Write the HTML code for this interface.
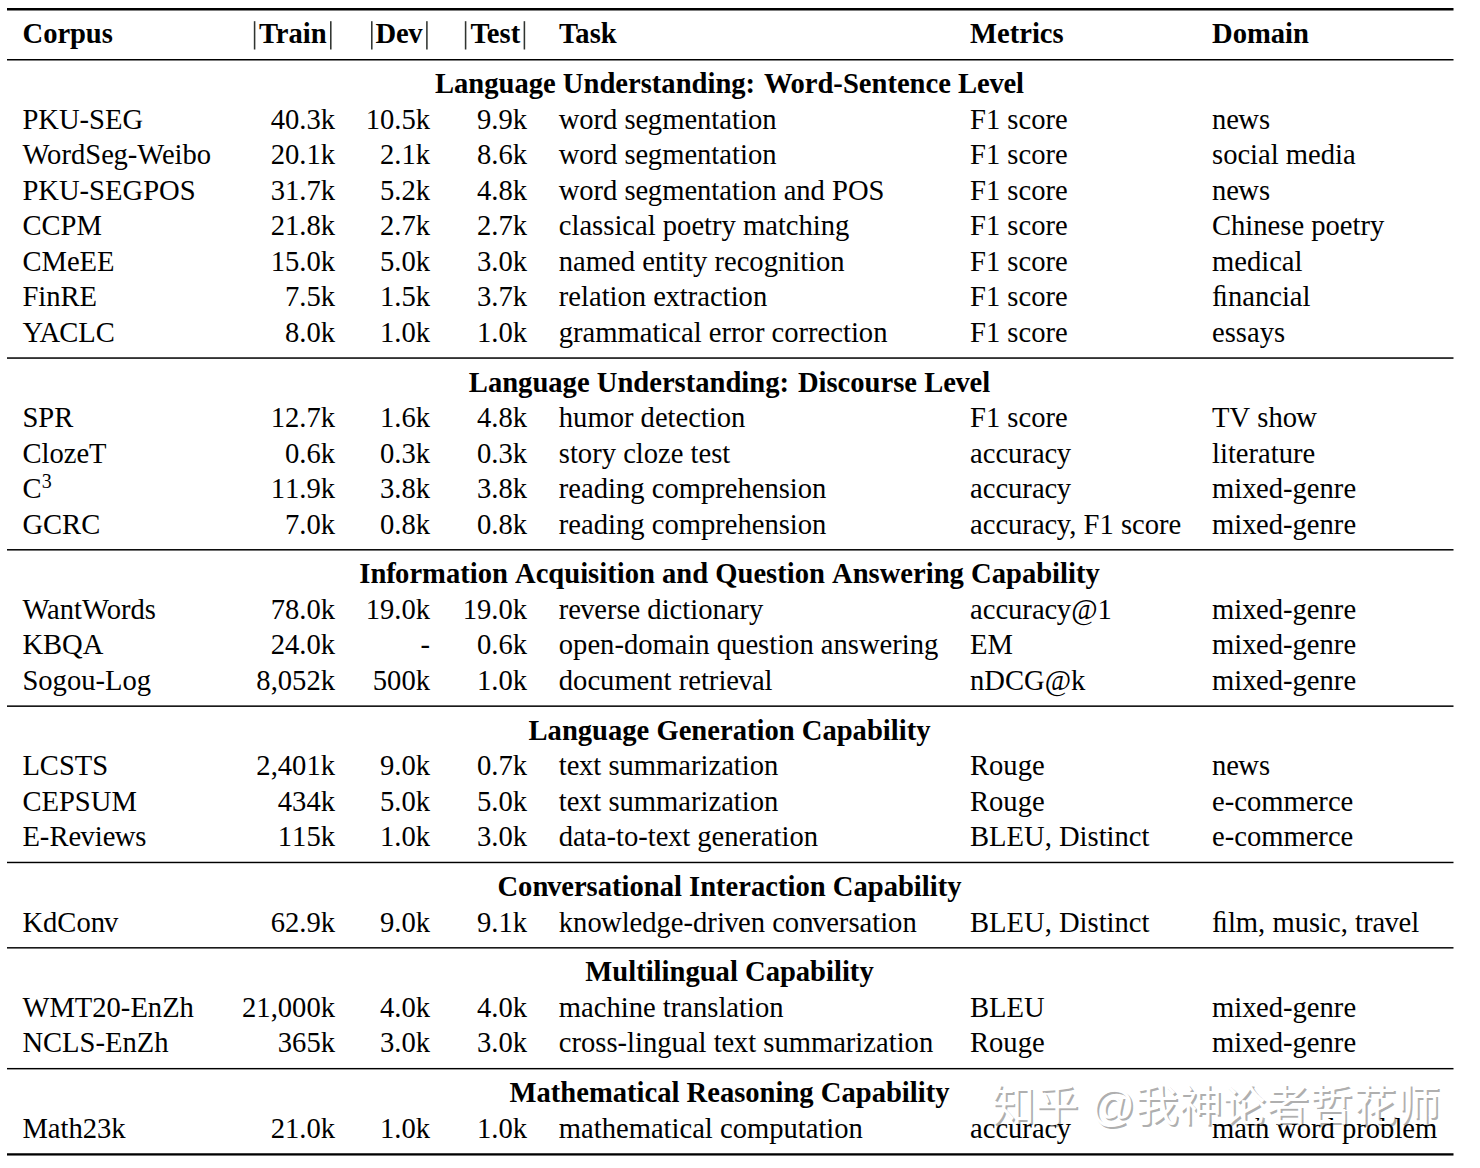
<!DOCTYPE html>
<html><head><meta charset="utf-8"><title>Table</title>
<style>
html,body{margin:0;padding:0;background:#fff;}
body{width:1480px;height:1168px;position:relative;overflow:hidden;font-family:"Liberation Serif",serif;color:#000;font-kerning:none;font-variant-ligatures:none;}
i{font-style:normal}
.k0{letter-spacing:-0.01em}
.k1{letter-spacing:-0.074em}
.k2{letter-spacing:-0.015em}
.k3{letter-spacing:-0.092em}
.k4{letter-spacing:0.06em}
.k5{letter-spacing:-0.075em}
.k6{letter-spacing:-0.025em}
.k7{letter-spacing:-0.08em}
.k8{letter-spacing:-0.12em}
.k9{letter-spacing:-0.04em}
.k10{letter-spacing:-0.065em}
.k11{letter-spacing:-0.02em}
.t{position:absolute;white-space:pre;font-size:28.6px;line-height:40px;height:40px;}
.b{font-weight:bold;}
.r{width:300px;text-align:right;}
.c{width:1200px;text-align:center;}
svg.ov{position:absolute;left:0;top:0;}
sup{font-size:0.7em;line-height:0;vertical-align:baseline;position:relative;top:-0.49em;margin-left:0.02em}
</style></head><body>
<span class="t b" style="left:22.60px;top:14px">Co<i class="k0">r</i>pus</span>
<span class="t b" style="left:258.90px;top:14px"><i class="k1">T</i>rain</span>
<span class="t b" style="left:375.40px;top:14px">D<i class="k2">e</i>v</span>
<span class="t b" style="left:470.40px;top:14px"><i class="k3">T</i>est</span>
<span class="t b" style="left:558.90px;top:14px"><i class="k3">T</i>ask</span>
<span class="t b" style="left:970.00px;top:14px">Metrics</span>
<span class="t b" style="left:1212.00px;top:14px">Domain</span>
<span class="t c b" style="left:129.50px;top:64px">Language Understanding<i class="k4">:</i> <i class="k5">W</i>ord-Sentence L<i class="k2">e</i><i class="k0">v</i>el</span>
<span class="t " style="left:22.40px;top:100px">PKU-SEG</span>
<span class="t r " style="left:35.00px;top:100px">40.3k</span>
<span class="t r " style="left:130.00px;top:100px">10.5k</span>
<span class="t r " style="left:227.00px;top:100px">9.9k</span>
<span class="t " style="left:558.80px;top:100px"><i class="k0">w</i>ord s<i class="k2">e</i>gmentation</span>
<span class="t " style="left:970.00px;top:100px">F1 score</span>
<span class="t " style="left:1212.00px;top:100px">n<i class="k6">e</i>ws</span>
<span class="t " style="left:22.40px;top:135px"><i class="k7">W</i>ordS<i class="k2">e</i>g-<i class="k7">W</i>eibo</span>
<span class="t r " style="left:35.00px;top:135px">20.1k</span>
<span class="t r " style="left:130.00px;top:135px">2.1k</span>
<span class="t r " style="left:227.00px;top:135px">8.6k</span>
<span class="t " style="left:558.80px;top:135px"><i class="k0">w</i>ord s<i class="k2">e</i>gmentation</span>
<span class="t " style="left:970.00px;top:135px">F1 score</span>
<span class="t " style="left:1212.00px;top:135px">social media</span>
<span class="t " style="left:22.40px;top:171px">PKU-SEGPOS</span>
<span class="t r " style="left:35.00px;top:171px">31.7k</span>
<span class="t r " style="left:130.00px;top:171px">5.2k</span>
<span class="t r " style="left:227.00px;top:171px">4.8k</span>
<span class="t " style="left:558.80px;top:171px"><i class="k0">w</i>ord s<i class="k2">e</i>gmentation and POS</span>
<span class="t " style="left:970.00px;top:171px">F1 score</span>
<span class="t " style="left:1212.00px;top:171px">n<i class="k6">e</i>ws</span>
<span class="t " style="left:22.40px;top:206px">CCPM</span>
<span class="t r " style="left:35.00px;top:206px">21.8k</span>
<span class="t r " style="left:130.00px;top:206px">2.7k</span>
<span class="t r " style="left:227.00px;top:206px">2.7k</span>
<span class="t " style="left:558.80px;top:206px">classical poetry matching</span>
<span class="t " style="left:970.00px;top:206px">F1 score</span>
<span class="t " style="left:1212.00px;top:206px">Chinese poetry</span>
<span class="t " style="left:22.40px;top:242px">CMeEE</span>
<span class="t r " style="left:35.00px;top:242px">15.0k</span>
<span class="t r " style="left:130.00px;top:242px">5.0k</span>
<span class="t r " style="left:227.00px;top:242px">3.0k</span>
<span class="t " style="left:558.80px;top:242px">named entity recognition</span>
<span class="t " style="left:970.00px;top:242px">F1 score</span>
<span class="t " style="left:1212.00px;top:242px">medical</span>
<span class="t " style="left:22.40px;top:277px">FinRE</span>
<span class="t r " style="left:35.00px;top:277px">7.5k</span>
<span class="t r " style="left:130.00px;top:277px">1.5k</span>
<span class="t r " style="left:227.00px;top:277px">3.7k</span>
<span class="t " style="left:558.80px;top:277px">relation <i class="k2">e</i>xtraction</span>
<span class="t " style="left:970.00px;top:277px">F1 score</span>
<span class="t " style="left:1212.00px;top:277px">ﬁnancial</span>
<span class="t " style="left:22.40px;top:313px"><i class="k8">Y</i><i class="k9">A</i>CLC</span>
<span class="t r " style="left:35.00px;top:313px">8.0k</span>
<span class="t r " style="left:130.00px;top:313px">1.0k</span>
<span class="t r " style="left:227.00px;top:313px">1.0k</span>
<span class="t " style="left:558.80px;top:313px">grammatical error correction</span>
<span class="t " style="left:970.00px;top:313px">F1 score</span>
<span class="t " style="left:1212.00px;top:313px">essays</span>
<span class="t c b" style="left:129.50px;top:363px">Language Understanding<i class="k4">:</i> Discourse L<i class="k2">e</i><i class="k0">v</i>el</span>
<span class="t " style="left:22.40px;top:398px">SPR</span>
<span class="t r " style="left:35.00px;top:398px">12.7k</span>
<span class="t r " style="left:130.00px;top:398px">1.6k</span>
<span class="t r " style="left:227.00px;top:398px">4.8k</span>
<span class="t " style="left:558.80px;top:398px">humor detection</span>
<span class="t " style="left:970.00px;top:398px">F1 score</span>
<span class="t " style="left:1212.00px;top:398px">TV sh<i class="k6">o</i>w</span>
<span class="t " style="left:22.40px;top:434px">ClozeT</span>
<span class="t r " style="left:35.00px;top:434px">0.6k</span>
<span class="t r " style="left:130.00px;top:434px">0.3k</span>
<span class="t r " style="left:227.00px;top:434px">0.3k</span>
<span class="t " style="left:558.80px;top:434px">story cloze test</span>
<span class="t " style="left:970.00px;top:434px">accura<i class="k2">c</i>y</span>
<span class="t " style="left:1212.00px;top:434px">literature</span>
<span class="t " style="left:22.40px;top:469px">C<sup>3</sup></span>
<span class="t r " style="left:35.00px;top:469px">11.9k</span>
<span class="t r " style="left:130.00px;top:469px">3.8k</span>
<span class="t r " style="left:227.00px;top:469px">3.8k</span>
<span class="t " style="left:558.80px;top:469px">reading comprehension</span>
<span class="t " style="left:970.00px;top:469px">accura<i class="k2">c</i>y</span>
<span class="t " style="left:1212.00px;top:469px">mi<i class="k2">x</i>ed-genre</span>
<span class="t " style="left:22.40px;top:505px">GCRC</span>
<span class="t r " style="left:35.00px;top:505px">7.0k</span>
<span class="t r " style="left:130.00px;top:505px">0.8k</span>
<span class="t r " style="left:227.00px;top:505px">0.8k</span>
<span class="t " style="left:558.80px;top:505px">reading comprehension</span>
<span class="t " style="left:970.00px;top:505px">accura<i class="k2">c</i><i class="k10">y</i>, F1 score</span>
<span class="t " style="left:1212.00px;top:505px">mi<i class="k2">x</i>ed-genre</span>
<span class="t c b" style="left:129.50px;top:554px">In<i class="k6">f</i>ormation Acquisition and Question Answering Capability</span>
<span class="t " style="left:22.40px;top:590px"><i class="k7">W</i>ant<i class="k7">W</i>ords</span>
<span class="t r " style="left:35.00px;top:590px">78.0k</span>
<span class="t r " style="left:130.00px;top:590px">19.0k</span>
<span class="t r " style="left:227.00px;top:590px">19.0k</span>
<span class="t " style="left:558.80px;top:590px">r<i class="k6">e</i><i class="k2">v</i>erse dictionary</span>
<span class="t " style="left:970.00px;top:590px">accura<i class="k2">c</i>y@1</span>
<span class="t " style="left:1212.00px;top:590px">mi<i class="k2">x</i>ed-genre</span>
<span class="t " style="left:22.40px;top:625px">KBQA</span>
<span class="t r " style="left:35.00px;top:625px">24.0k</span>
<span class="t r " style="left:130.00px;top:625px">-</span>
<span class="t r " style="left:227.00px;top:625px">0.6k</span>
<span class="t " style="left:558.80px;top:625px">open-domain question answering</span>
<span class="t " style="left:970.00px;top:625px">EM</span>
<span class="t " style="left:1212.00px;top:625px">mi<i class="k2">x</i>ed-genre</span>
<span class="t " style="left:22.40px;top:661px">Sogou-Log</span>
<span class="t r " style="left:35.00px;top:661px">8,052k</span>
<span class="t r " style="left:130.00px;top:661px">500k</span>
<span class="t r " style="left:227.00px;top:661px">1.0k</span>
<span class="t " style="left:558.80px;top:661px">document retri<i class="k6">e</i><i class="k6">v</i>al</span>
<span class="t " style="left:970.00px;top:661px">nDCG@k</span>
<span class="t " style="left:1212.00px;top:661px">mi<i class="k2">x</i>ed-genre</span>
<span class="t c b" style="left:129.50px;top:711px">Language Generation Capability</span>
<span class="t " style="left:22.40px;top:746px">LCSTS</span>
<span class="t r " style="left:35.00px;top:746px">2,401k</span>
<span class="t r " style="left:130.00px;top:746px">9.0k</span>
<span class="t r " style="left:227.00px;top:746px">0.7k</span>
<span class="t " style="left:558.80px;top:746px">t<i class="k2">e</i>xt summarization</span>
<span class="t " style="left:970.00px;top:746px">Rouge</span>
<span class="t " style="left:1212.00px;top:746px">n<i class="k6">e</i>ws</span>
<span class="t " style="left:22.40px;top:782px">CEPSUM</span>
<span class="t r " style="left:35.00px;top:782px">434k</span>
<span class="t r " style="left:130.00px;top:782px">5.0k</span>
<span class="t r " style="left:227.00px;top:782px">5.0k</span>
<span class="t " style="left:558.80px;top:782px">t<i class="k2">e</i>xt summarization</span>
<span class="t " style="left:970.00px;top:782px">Rouge</span>
<span class="t " style="left:1212.00px;top:782px">e-commerce</span>
<span class="t " style="left:22.40px;top:817px">E-R<i class="k6">e</i>vi<i class="k6">e</i>ws</span>
<span class="t r " style="left:35.00px;top:817px">115k</span>
<span class="t r " style="left:130.00px;top:817px">1.0k</span>
<span class="t r " style="left:227.00px;top:817px">3.0k</span>
<span class="t " style="left:558.80px;top:817px">data-to-t<i class="k2">e</i>xt generation</span>
<span class="t " style="left:970.00px;top:817px">BLEU, Distinct</span>
<span class="t " style="left:1212.00px;top:817px">e-commerce</span>
<span class="t c b" style="left:129.50px;top:867px">Co<i class="k9">n</i><i class="k0">v</i>ersational Interaction Capability</span>
<span class="t " style="left:22.40px;top:903px">KdCo<i class="k9">n</i>v</span>
<span class="t r " style="left:35.00px;top:903px">62.9k</span>
<span class="t r " style="left:130.00px;top:903px">9.0k</span>
<span class="t r " style="left:227.00px;top:903px">9.1k</span>
<span class="t " style="left:558.80px;top:903px">kn<i class="k6">o</i>wledge-dr<i class="k6">i</i><i class="k2">v</i>en co<i class="k9">n</i><i class="k2">v</i>ersation</span>
<span class="t " style="left:970.00px;top:903px">BLEU, Distinct</span>
<span class="t " style="left:1212.00px;top:903px">ﬁlm, music, tr<i class="k11">a</i><i class="k2">v</i>el</span>
<span class="t c b" style="left:129.50px;top:952px">Multilingual Capability</span>
<span class="t " style="left:22.40px;top:988px">WMT20-EnZh</span>
<span class="t r " style="left:35.00px;top:988px">21,000k</span>
<span class="t r " style="left:130.00px;top:988px">4.0k</span>
<span class="t r " style="left:227.00px;top:988px">4.0k</span>
<span class="t " style="left:558.80px;top:988px">machine translation</span>
<span class="t " style="left:970.00px;top:988px">BLEU</span>
<span class="t " style="left:1212.00px;top:988px">mi<i class="k2">x</i>ed-genre</span>
<span class="t " style="left:22.40px;top:1023px">NCLS-EnZh</span>
<span class="t r " style="left:35.00px;top:1023px">365k</span>
<span class="t r " style="left:130.00px;top:1023px">3.0k</span>
<span class="t r " style="left:227.00px;top:1023px">3.0k</span>
<span class="t " style="left:558.80px;top:1023px">cross-lingual t<i class="k2">e</i>xt summarization</span>
<span class="t " style="left:970.00px;top:1023px">Rouge</span>
<span class="t " style="left:1212.00px;top:1023px">mi<i class="k2">x</i>ed-genre</span>
<span class="t c b" style="left:129.50px;top:1073px">Mathematical Reasoning Capability</span>
<span class="t " style="left:22.40px;top:1109px">Math23k</span>
<span class="t r " style="left:35.00px;top:1109px">21.0k</span>
<span class="t r " style="left:130.00px;top:1109px">1.0k</span>
<span class="t r " style="left:227.00px;top:1109px">1.0k</span>
<span class="t " style="left:558.80px;top:1109px">mathematical computation</span>
<span class="t " style="left:970.00px;top:1109px">accura<i class="k2">c</i>y</span>
<span class="t " style="left:1212.00px;top:1109px">math <i class="k0">w</i>ord problem</span>
<svg class="ov" width="1480" height="1168" viewBox="0 0 1480 1168">
<rect x="7.0" y="8.0" width="1446.5" height="2.5" fill="#000"/>
<rect x="7.0" y="59.0" width="1446.5" height="1.5" fill="#000"/>
<rect x="7.0" y="357.3" width="1446.5" height="1.5" fill="#000"/>
<rect x="7.0" y="549.05" width="1446.5" height="1.5" fill="#000"/>
<rect x="7.0" y="705.4" width="1446.5" height="1.5" fill="#000"/>
<rect x="7.0" y="861.75" width="1446.5" height="1.45" fill="#000"/>
<rect x="7.0" y="947.1" width="1446.5" height="1.45" fill="#000"/>
<rect x="7.0" y="1067.95" width="1446.5" height="1.45" fill="#000"/>
<rect x="7.0" y="1153.25" width="1446.5" height="2.3" fill="#000"/>
<rect x="253.82" y="21.2" width="1.55" height="28.3" fill="#303430"/>
<rect x="330.02" y="21.2" width="1.55" height="28.3" fill="#303430"/>
<rect x="371.02" y="21.2" width="1.55" height="28.3" fill="#303430"/>
<rect x="426.12" y="21.2" width="1.55" height="28.3" fill="#303430"/>
<rect x="464.82" y="21.2" width="1.55" height="28.3" fill="#303430"/>
<rect x="523.62" y="21.2" width="1.55" height="28.3" fill="#303430"/>
<text x="993.5" y="1123" font-size="43.5" font-family="&quot;Liberation Sans&quot;, &quot;Noto Sans CJK SC&quot;, sans-serif" textLength="448.5" lengthAdjust="spacing" fill="#000" fill-opacity="0.31">知乎 @我神论者哲花师</text>
<text x="993.5" y="1123" font-size="43.5" font-family="&quot;Liberation Sans&quot;, &quot;Noto Sans CJK SC&quot;, sans-serif" textLength="448.5" lengthAdjust="spacing" transform="translate(-2.1,-2.1)" fill="#ffffff">知乎 @我神论者哲花师</text>
</svg>
</body></html>
